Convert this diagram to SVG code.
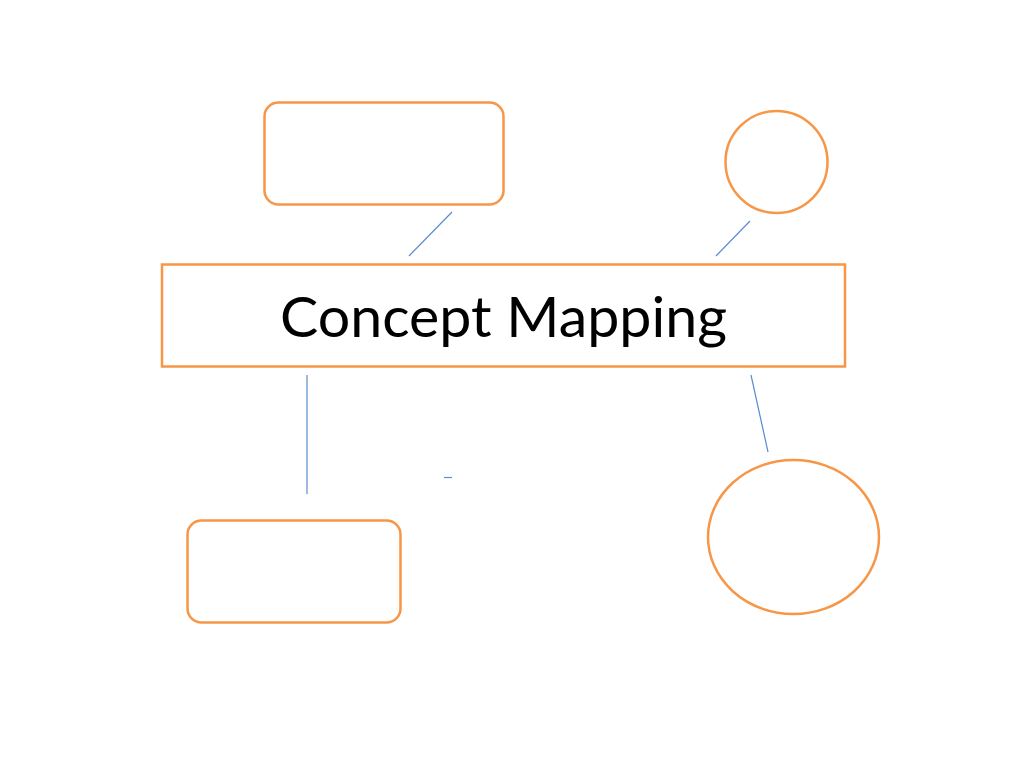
<svg xmlns="http://www.w3.org/2000/svg" width="1024" height="768" viewBox="0 0 1024 768">
<style>
.n{fill:none;stroke:#F79646;stroke-width:2.5}
.c{stroke:#5B8BD0;stroke-width:1.2;fill:none}
.t{font-family:Lato,"Open Sans","Liberation Sans",sans-serif;font-size:56px;fill:#000}
</style>
<rect width="1024" height="768" fill="#fff"/>
<g id="connectors">
<line class="c" x1="452" y1="212" x2="409" y2="256"/>
<line class="c" x1="750" y1="221" x2="716" y2="256"/>
<line class="c" x1="307" y1="375" x2="307" y2="494"/>
<line class="c" x1="751" y1="375" x2="768" y2="452"/>
<line class="c" x1="444" y1="477.5" x2="452" y2="477.5"/>
</g>
<g id="main"><rect class="n" x="162" y="264.5" width="683" height="102"/>
<text class="t" x="503.5" y="337" text-anchor="middle" textLength="447" lengthAdjust="spacingAndGlyphs">Concept Mapping</text></g>
<g id="box-top"><rect class="n" x="264.5" y="102.5" width="239" height="102" rx="14"/></g>
<g id="circle-top"><circle class="n" cx="776.5" cy="162" r="51"/></g>
<g id="box-bottom"><rect class="n" x="187.5" y="520.5" width="213" height="102" rx="14"/></g>
<g id="ellipse-bottom"><ellipse class="n" cx="793.5" cy="537" rx="85.5" ry="77"/></g>
</svg>
